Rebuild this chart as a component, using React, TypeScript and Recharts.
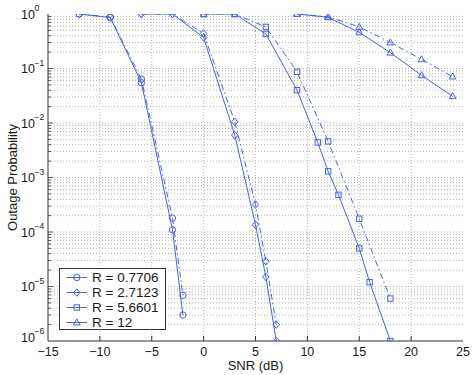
import React from 'react';
import { ComposedChart, Line, XAxis, YAxis, ReferenceLine, Legend } from 'recharts';

// ---------- data ----------
const xTicks = [-15, -10, -5, 0, 5, 10, 15, 20, 25];
const xGridValues = [-10, -5, 0, 5, 10, 15, 20];
const yDecades = [1e-6, 1e-5, 1e-4, 1e-3, 1e-2, 1e-1, 1];
const minorMultipliers = [2, 3, 4, 5, 6, 7, 8, 9];

const seriesNames = ['R = 0.7706', 'R = 2.7123', 'R = 5.6601', 'R = 12'];
const seriesShapes = ['circle', 'diamond', 'square', 'triangle'];

const snrR1 = [-12, -9, -6, -3, -2];
const poutR1Solid = [1, 0.86, 0.055, 1.1e-4, 3e-6];
const poutR1Dashed = [1, 0.88, 0.064, 1.8e-4, 6.9e-6];

const snrR2 = [-6, -3, 0, 3, 5, 6, 7];
const poutR2Solid = [1, 1, 0.37, 0.006, 1.35e-4, 1.5e-5, 1e-6];
const poutR2Dashed = [1, 1, 0.44, 0.0105, 3.2e-4, 2.9e-5, 2e-6];

const snrR3Solid = [0, 3, 6, 9, 11, 12, 13, 15, 16, 18];
const poutR3Solid = [1, 1, 0.43, 0.04, 0.0044, 0.0013, 4.8e-4, 5e-5, 1.2e-5, 1e-6];
const snrR3Dashed = [0, 3, 6, 9, 12, 15, 18];
const poutR3Dashed = [1, 1, 0.58, 0.087, 0.0046, 1.75e-4, 6e-6];

const snrR4 = [9, 12, 15, 18, 21, 24];
const poutR4Solid = [1, 0.87, 0.46, 0.195, 0.075, 0.031];
const poutR4Dashed = [1, 0.89, 0.58, 0.3, 0.147, 0.071];

// ---------- helpers ----------
const BLUE = '#4862dc';
const FONT = '"Liberation Sans", Arial, Helvetica, sans-serif';
const TEXT = '#1a1a1a';
const AXIS = '#333';
const GRID = '#b4b4b4';

const toPoints = (xs: number[], ys: number[]) => xs.map((snr, i) => ({ snr, p: ys[i] }));

const minorValues: number[] = [];
yDecades.slice(0, -1).forEach((d) => minorMultipliers.forEach((m) => minorValues.push(d * m)));
const yTickValues = [...yDecades, ...minorValues].sort((a, b) => a - b);

const isDecade = (v: number) => Math.abs(Math.log10(v) - Math.round(Math.log10(v))) < 1e-9;

function Marker({ shape, cx, cy }: { shape: string; cx: number; cy: number }) {
  const common = { fill: 'none', stroke: BLUE, strokeWidth: 1 };
  if (shape === 'circle') return <circle cx={cx} cy={cy} r={3.2} {...common} />;
  if (shape === 'diamond')
    return <polygon points={`${cx},${cy - 3.8} ${cx + 3.2},${cy} ${cx},${cy + 3.8} ${cx - 3.2},${cy}`} {...common} />;
  if (shape === 'square') return <rect x={cx - 2.7} y={cy - 2.7} width={5.4} height={5.4} {...common} />;
  return <polygon points={`${cx},${cy - 3.6} ${cx + 3.4},${cy + 2.4} ${cx - 3.4},${cy + 2.4}`} {...common} />;
}

const makeDot = (shape: string) => (props: any) => {
  const { cx, cy, index } = props;
  if (cx == null || cy == null || isNaN(cx) || isNaN(cy)) return <g key={`d-${index}`} />;
  return <Marker key={`d-${index}`} shape={shape} cx={cx} cy={cy} />;
};

const fmtNum = (v: number) => (v < 0 ? `\u2212${Math.abs(v)}` : `${v}`);

function XBottomTick(props: any) {
  const { x, y, payload } = props;
  const v = payload.value;
  const showLine = v !== -15 && v !== 25;
  return (
    <g>
      {showLine && <line x1={x} y1={y} x2={x} y2={y - 5} stroke={AXIS} strokeWidth={1} />}
      <text x={x} y={y + 15} textAnchor="middle" fontFamily={FONT} fontSize={12.5} fill={TEXT}>
        {fmtNum(v)}
      </text>
    </g>
  );
}

function XTopTick(props: any) {
  const { x, y, payload } = props;
  const v = payload.value;
  if (v === -15 || v === 25) return <g />;
  return <line x1={x} y1={y} x2={x} y2={y + 5} stroke={AXIS} strokeWidth={1} />;
}

function YLeftTick(props: any) {
  const { x, y, payload } = props;
  const v = payload.value;
  const dec = isDecade(v);
  const len = dec ? 5 : 3;
  const exp = Math.round(Math.log10(v));
  const yy = exp === -6 ? y - 4 : y;
  return (
    <g>
      {!(dec && (exp === 0 || exp === -6)) && (
        <line x1={x} y1={y} x2={x + len} y2={y} stroke={AXIS} strokeWidth={0.8} />
      )}
      {dec && (
        <text fontFamily={FONT} fill={TEXT}>
          <tspan x={x - 27} y={yy + 4.5} fontSize={12.5}>10</tspan>
          <tspan x={x - 13.5} y={yy - 3} fontSize={8.5}>{fmtNum(exp)}</tspan>
        </text>
      )}
    </g>
  );
}

function YRightTick(props: any) {
  const { x, y, payload } = props;
  const v = payload.value;
  const dec = isDecade(v);
  const exp = Math.round(Math.log10(v));
  if (dec && (exp === 0 || exp === -6)) return <g />;
  const len = dec ? 5 : 3;
  return <line x1={x} y1={y} x2={x - len} y2={y} stroke={AXIS} strokeWidth={0.8} />;
}

function YTitle(props: any) {
  const vb = props.viewBox || {};
  const cy = (vb.y ?? 14) + (vb.height ?? 327) / 2;
  return (
    <text
      x={12}
      y={cy}
      transform={`rotate(-90 12 ${cy})`}
      textAnchor="middle"
      dominantBaseline="central"
      fontFamily={FONT}
      fontSize={13}
      fill={TEXT}
    >
      Outage Probability
    </text>
  );
}

function XTitle(props: any) {
  const vb = props.viewBox || {};
  const cx = (vb.x ?? 48) + (vb.width ?? 415) / 2;
  return (
    <text x={cx} y={370} textAnchor="middle" fontFamily={FONT} fontSize={13} fill={TEXT}>
      SNR (dB)
    </text>
  );
}

function LegendBox() {
  const rowH = 15;
  return (
    <div
      style={{
        width: 107,
        height: 62,
        border: `1px solid ${AXIS}`,
        background: '#fff',
        boxSizing: 'border-box',
      }}
    >
      <svg width={105} height={60} style={{ display: 'block' }}>
        {seriesNames.map((name, i) => {
          const cy = 8.5 + i * rowH;
          return (
            <g key={name}>
              <line x1={6.5} y1={cy} x2={27} y2={cy} stroke={BLUE} strokeWidth={1} />
              <Marker shape={seriesShapes[i]} cx={16.8} cy={cy} />
              <text x={32} y={cy + 4.8} fontFamily={FONT} fontSize={13.5} fill={TEXT}>
                {name}
              </text>
            </g>
          );
        })}
      </svg>
    </div>
  );
}

const solidSeries = [
  { key: 'r1s', data: toPoints(snrR1, poutR1Solid), shape: 'circle' },
  { key: 'r2s', data: toPoints(snrR2, poutR2Solid), shape: 'diamond' },
  { key: 'r3s', data: toPoints(snrR3Solid, poutR3Solid), shape: 'square' },
  { key: 'r4s', data: toPoints(snrR4, poutR4Solid), shape: 'triangle' },
];
const dashedSeries = [
  { key: 'r1d', data: toPoints(snrR1, poutR1Dashed), shape: 'circle' },
  { key: 'r2d', data: toPoints(snrR2, poutR2Dashed), shape: 'diamond' },
  { key: 'r3d', data: toPoints(snrR3Dashed, poutR3Dashed), shape: 'square' },
  { key: 'r4d', data: toPoints(snrR4, poutR4Dashed), shape: 'triangle' },
];

export default function App() {
  return (
    <div style={{ position: 'absolute', left: 0, top: 0, background: '#fff' }}>
      <ComposedChart width={474} height={375} margin={{ top: 14, right: 11, bottom: 0, left: 0 }}>
        <XAxis
          dataKey="snr"
          type="number"
          domain={[-15, 25]}
          ticks={xTicks}
          interval={0}
          allowDataOverflow
          height={34}
          tickSize={0}
          tickMargin={0}
          tickLine={false}
          axisLine={{ stroke: AXIS, strokeWidth: 1 }}
          tick={<XBottomTick />}
          label={<XTitle />}
        />
        <XAxis
          xAxisId="top"
          orientation="top"
          type="number"
          domain={[-15, 25]}
          ticks={xTicks}
          interval={0}
          allowDataOverflow
          height={0}
          tickSize={0}
          tickMargin={0}
          tickLine={false}
          axisLine={{ stroke: AXIS, strokeWidth: 1 }}
          tick={<XTopTick />}
        />
        <YAxis
          type="number"
          scale="log"
          domain={[1e-6, 1]}
          ticks={yTickValues}
          interval={0}
          allowDataOverflow
          width={48}
          tickSize={0}
          tickMargin={0}
          tickLine={false}
          axisLine={{ stroke: AXIS, strokeWidth: 1 }}
          tick={<YLeftTick />}
          label={<YTitle />}
        />
        <YAxis
          yAxisId="right"
          orientation="right"
          type="number"
          scale="log"
          domain={[1e-6, 1]}
          ticks={yTickValues}
          interval={0}
          allowDataOverflow
          width={0}
          tickSize={0}
          tickMargin={0}
          tickLine={false}
          axisLine={{ stroke: AXIS, strokeWidth: 1 }}
          tick={<YRightTick />}
        />
        {xGridValues.map((v) => (
          <ReferenceLine key={`vx${v}`} x={v} stroke={GRID} strokeWidth={1} strokeDasharray="1 2" />
        ))}
        {[...yDecades.slice(1, -1), ...minorValues].map((v) => (
          <ReferenceLine key={`hy${v}`} y={v} stroke={GRID} strokeWidth={1} strokeDasharray="1 2" />
        ))}
        {solidSeries.map((s) => (
          <Line
            key={s.key}
            data={s.data}
            dataKey="p"
            type="linear"
            stroke={BLUE}
            strokeWidth={1}
            dot={makeDot(s.shape)}
            activeDot={false}
            isAnimationActive={false}
            legendType="none"
          />
        ))}
        {dashedSeries.map((s) => (
          <Line
            key={s.key}
            data={s.data}
            dataKey="p"
            type="linear"
            stroke={BLUE}
            strokeWidth={1}
            strokeDasharray="6 3 1.5 3"
            dot={makeDot(s.shape)}
            activeDot={false}
            isAnimationActive={false}
            legendType="none"
          />
        ))}
        <Legend
          layout="horizontal"
          verticalAlign="middle"
          align="center"
          content={() => <LegendBox />}
          wrapperStyle={{ position: 'absolute', left: 59, top: 268, width: 107, height: 62, margin: 0 }}
        />
      </ComposedChart>
    </div>
  );
}
